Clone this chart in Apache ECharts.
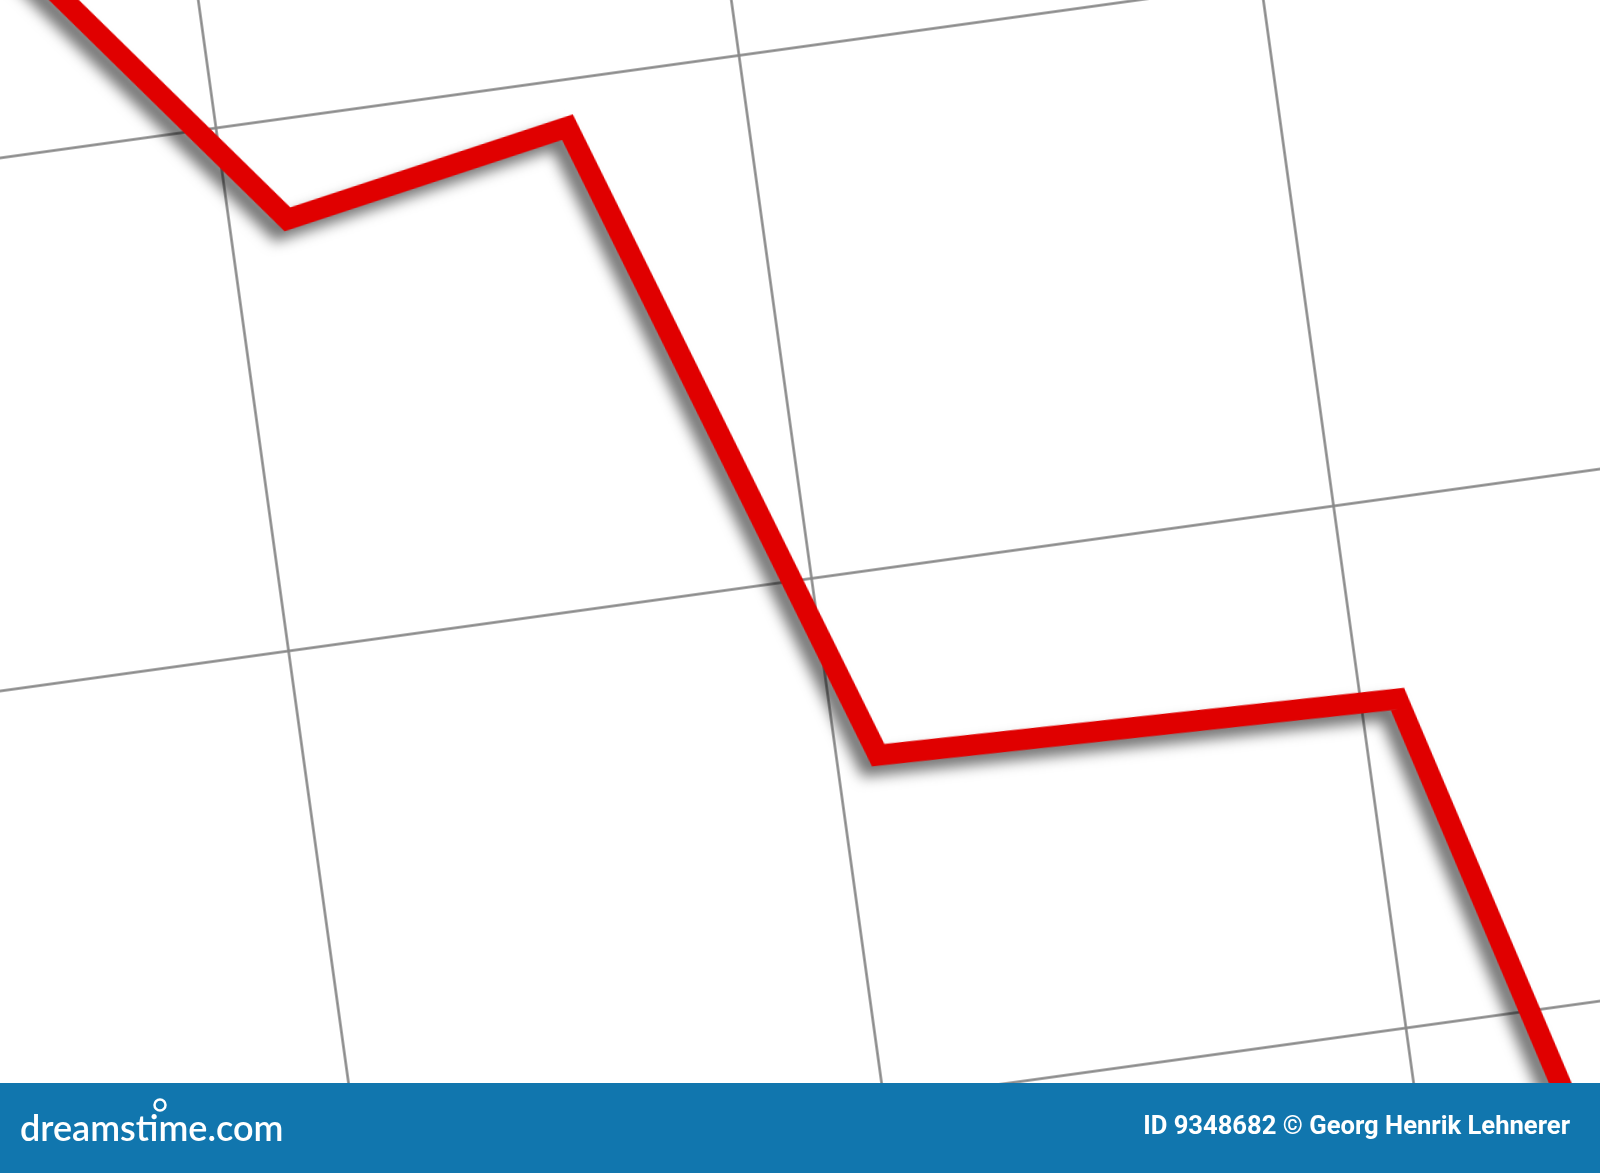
<!DOCTYPE html>
<html>
<head>
<meta charset="utf-8">
<script src="https://cdn.jsdelivr.net/npm/echarts@6/dist/echarts.min.js"></script>
<style>
  html, body { margin:0; padding:0; width:1600px; height:1173px; overflow:hidden; background:#ffffff; }
  #chart { position:absolute; left:-770.8px; top:-477.4px; width:3164px; height:2110px;
           transform:rotate(-7.9deg); transform-origin:50% 50%; }
  #banner { position:absolute; left:0; top:1083px; width:1600px; height:90px; z-index:5; }
</style>
</head>
<body>
<div id="chart"></div>
<div id="banner"></div>
<script>
// Series data (grid units: one cell = 10)
const xValues = [-6, 1.1, 6.6, 10.8, 20.7, 24.5];
const yValues = [17.3, 8.1, 9.1, -3.5, -3.8, -17.9];
const xRange = [-20, 40];
const yRange = [-20, 20];
const gridStep = 10;
const creditText = 'ID 9348682 © Georg Henrik Lehnerer';
const brandText = 'dreamstime.com';

const points = xValues.map((x, i) => [x, yValues[i]]);

const chart = echarts.init(document.getElementById('chart'), null, { renderer: 'canvas' });
chart.setOption({
  animation: false,
  backgroundColor: '#ffffff',
  grid: { left: 0, right: 0, top: 0, bottom: 0, containLabel: false },
  xAxis: {
    type: 'value', min: xRange[0], max: xRange[1], interval: gridStep,
    axisLine: { show: false }, axisTick: { show: false }, axisLabel: { show: false },
    splitLine: { show: true, lineStyle: { color: '#888888', width: 2.5 } }
  },
  yAxis: {
    type: 'value', min: yRange[0], max: yRange[1], interval: gridStep,
    axisLine: { show: false }, axisTick: { show: false }, axisLabel: { show: false },
    splitLine: { show: true, lineStyle: { color: '#888888', width: 2.5 } }
  },
  series: [{
    type: 'line',
    data: points,
    showSymbol: false,
    symbol: 'none',
    lineStyle: {
      color: '#e00000', width: 21, join: 'miter', miterLimit: 10, cap: 'butt',
      shadowColor: 'rgba(0,0,0,0.55)', shadowBlur: 14, shadowOffsetX: -11, shadowOffsetY: 9
    }
  }]
});

const banner = echarts.init(document.getElementById('banner'), null, { renderer: 'canvas' });
banner.setOption({
  animation: false,
  graphic: [
    { type: 'rect', shape: { x: 0, y: 0, width: 1600, height: 90 }, style: { fill: '#1176ae' } },
    { type: 'text', left: 20, top: 28,
      style: { text: brandText, fill: '#ffffff', font: '600 36px Lato, "Open Sans", sans-serif' } },
    { type: 'circle', shape: { cx: 160, cy: 22, r: 5.5 }, style: { fill: 'none', stroke: '#ffffff', lineWidth: 2.5 } },
    { type: 'text', right: 30, top: 32,
      style: { text: creditText, fill: '#ffffff', font: 'bold 25.6px Roboto, "Open Sans", sans-serif' } }
  ]
});
</script>
</body>
</html>
